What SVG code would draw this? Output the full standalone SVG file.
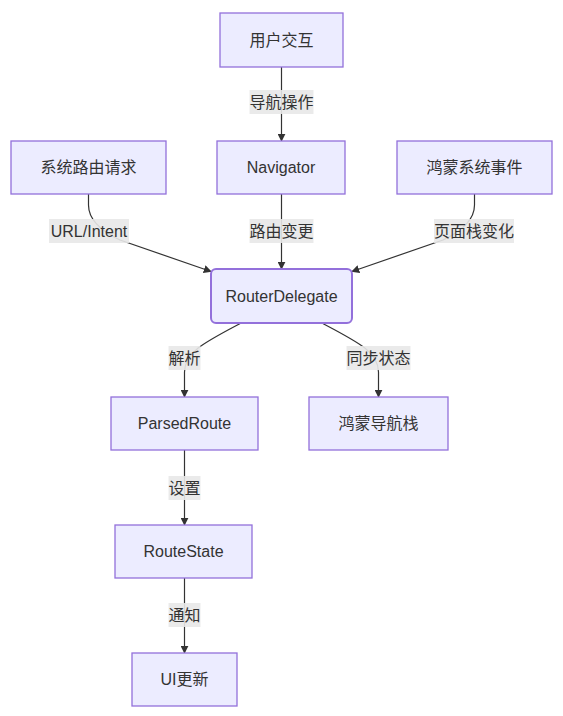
<svg xmlns="http://www.w3.org/2000/svg" width="563" height="716" viewBox="0 0 563 716">
<defs>
<style>
.n rect{fill:#ECECFF;stroke:#9370DB;stroke-width:1.3}
.n text,.l text{font-family:"Liberation Sans","Noto Sans CJK SC",sans-serif;font-size:16px;fill:#333;text-anchor:middle;dominant-baseline:central}
.e{fill:none;stroke:#333;stroke-width:1.2;marker-end:url(#ah)}
.l rect{fill:#e8e8e8;opacity:0.9}
</style>
<marker id="ah" viewBox="0 0 10 10" refX="9" refY="5" markerWidth="8" markerHeight="8" orient="auto-start-reverse" markerUnits="userSpaceOnUse">
<path d="M0,0 L10,5 L0,10 z" fill="#333"/>
</marker>
</defs>
<rect width="563" height="716" fill="#fff"/>
<g id="edges">
<path class="e" d="M281.5,67 L281.5,141"/>
<path class="e" d="M88.5,194 L88.5,205 Q88.5,225 120,240 L211,271.5"/>
<path class="e" d="M281.5,194 L281.5,269"/>
<path class="e" d="M474.5,194 L474.5,205 Q474.5,225 443,240 L352,271.5"/>
<path class="e" d="M241,323 C205,342 184.5,352 184.5,372 L184.5,397"/>
<path class="e" d="M322,323 C358,342 378.5,352 378.5,372 L378.5,397"/>
<path class="e" d="M184.5,450 L184.5,525"/>
<path class="e" d="M184.5,578 L184.5,653"/>
</g>
<g id="edge-labels" class="l">
<g><rect x="249.5" y="90" width="64" height="24"/><text x="281.5" y="102">导航操作</text></g>
<g><rect x="49" y="219" width="80" height="24"/><text x="89" y="231">URL/Intent</text></g>
<g><rect x="249.5" y="219" width="64" height="24"/><text x="281.5" y="231">路由变更</text></g>
<g><rect x="434" y="219" width="80" height="24"/><text x="474" y="231">页面栈变化</text></g>
<g><rect x="168.5" y="346" width="32" height="24"/><text x="184.5" y="358">解析</text></g>
<g><rect x="346.5" y="346" width="64" height="24"/><text x="378.5" y="358">同步状态</text></g>
<g><rect x="168.5" y="476" width="32" height="24"/><text x="184.5" y="488">设置</text></g>
<g><rect x="168.5" y="603" width="32" height="24"/><text x="184.5" y="615">通知</text></g>
</g>
<g id="n-user" class="n"><rect x="220" y="13" width="123" height="54"/><text x="281.5" y="40">用户交互</text></g>
<g id="n-sysreq" class="n"><rect x="11" y="141" width="155" height="53"/><text x="88.5" y="167.5">系统路由请求</text></g>
<g id="n-nav" class="n"><rect x="217" y="141" width="128" height="53"/><text x="281" y="167.5">Navigator</text></g>
<g id="n-hmevt" class="n"><rect x="397" y="141" width="155" height="53"/><text x="474.5" y="167.5">鸿蒙系统事件</text></g>
<g id="n-rd" class="n"><rect x="211" y="269" width="141" height="54" rx="5" style="stroke-width:2"/><text x="281.5" y="296">RouterDelegate</text></g>
<g id="n-pr" class="n"><rect x="111" y="397" width="147" height="53"/><text x="184.5" y="423.5">ParsedRoute</text></g>
<g id="n-hmstack" class="n"><rect x="309" y="397" width="139" height="53"/><text x="378.5" y="423.5">鸿蒙导航栈</text></g>
<g id="n-rs" class="n"><rect x="115" y="525" width="137" height="53"/><text x="183.5" y="551.5">RouteState</text></g>
<g id="n-ui" class="n"><rect x="132" y="653" width="105" height="53"/><text x="184.5" y="679.5">UI更新</text></g>
</svg>
